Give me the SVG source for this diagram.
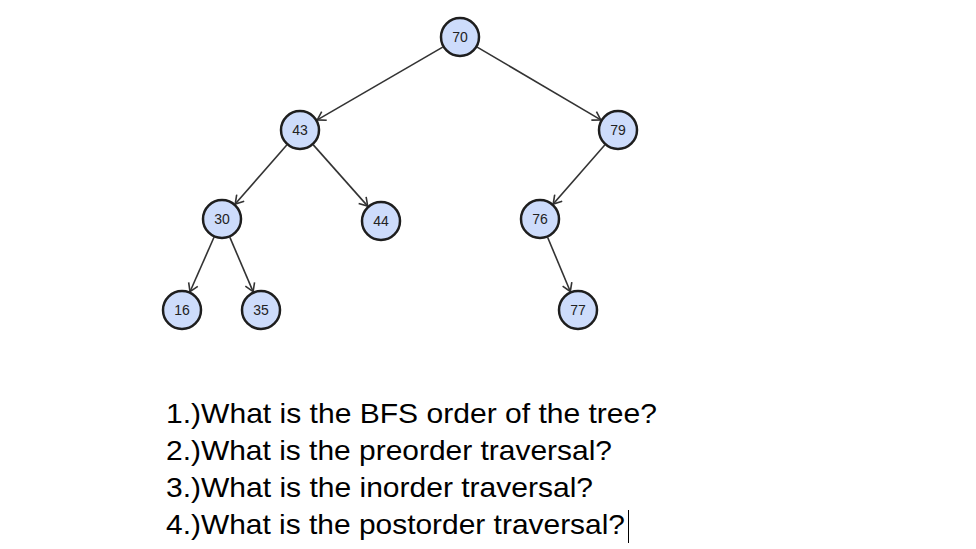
<svg xmlns="http://www.w3.org/2000/svg" width="976" height="549" viewBox="0 0 976 549">
<style>
.n circle{fill:#cddcfb;stroke:#1e1e1e;stroke-width:2.5}
.n text{font-family:"Liberation Sans",Arial,sans-serif;font-size:14px;fill:#222;text-anchor:middle}
.e line{stroke:#333;stroke-width:1.6;marker-end:url(#a)}
.q{font-family:"Liberation Sans",Arial,sans-serif;font-size:28px;fill:#000}
</style>
<defs>
<marker id="a" markerWidth="12" markerHeight="12" refX="10" refY="6" orient="auto" markerUnits="userSpaceOnUse">
<path d="M2,1 L10,6 L2,11" fill="none" stroke="#333" stroke-width="1.6"/>
</marker>
</defs>
<rect width="976" height="549" fill="#fff"/>
<g id="connectors" class="e">
<line x1="442.7" y1="47.1" x2="317.3" y2="119.9"/>
<line x1="477.2" y1="47.1" x2="600.8" y2="119.9"/>
<line x1="286.8" y1="145" x2="235.2" y2="204"/>
<line x1="313.3" y1="144.9" x2="367.7" y2="206.1"/>
<line x1="604.8" y1="145" x2="553.2" y2="204"/>
<line x1="214" y1="237.3" x2="190" y2="291.7"/>
<line x1="229.9" y1="237.4" x2="253.1" y2="291.6"/>
<line x1="547.7" y1="237.5" x2="570.3" y2="291.5"/>
</g>
<g id="n70" class="n"><circle cx="460" cy="37" r="19"/><text x="460" y="42">70</text></g>
<g id="n43" class="n"><circle cx="300" cy="130" r="19"/><text x="300" y="135">43</text></g>
<g id="n79" class="n"><circle cx="618" cy="130" r="19"/><text x="618" y="135">79</text></g>
<g id="n30" class="n"><circle cx="222" cy="219" r="19"/><text x="222" y="224">30</text></g>
<g id="n44" class="n"><circle cx="381" cy="221" r="19"/><text x="381" y="226">44</text></g>
<g id="n76" class="n"><circle cx="540" cy="219" r="19"/><text x="540" y="224">76</text></g>
<g id="n16" class="n"><circle cx="182" cy="310" r="19"/><text x="182" y="315">16</text></g>
<g id="n35" class="n"><circle cx="261" cy="310" r="19"/><text x="261" y="315">35</text></g>
<g id="n77" class="n"><circle cx="578" cy="310" r="19"/><text x="578" y="315">77</text></g>
<g id="questions">
<text class="q" x="166" y="423" textLength="491" lengthAdjust="spacingAndGlyphs">1.)What is the BFS order of the tree?</text>
<text class="q" x="166" y="460" textLength="446" lengthAdjust="spacingAndGlyphs">2.)What is the preorder traversal?</text>
<text class="q" x="166" y="497" textLength="427" lengthAdjust="spacingAndGlyphs">3.)What is the inorder traversal?</text>
<text class="q" x="166" y="534" textLength="459" lengthAdjust="spacingAndGlyphs">4.)What is the postorder traversal?</text>
<line x1="628.5" y1="510" x2="628.5" y2="543" stroke="#000" stroke-width="1"/>
</g>
</svg>
